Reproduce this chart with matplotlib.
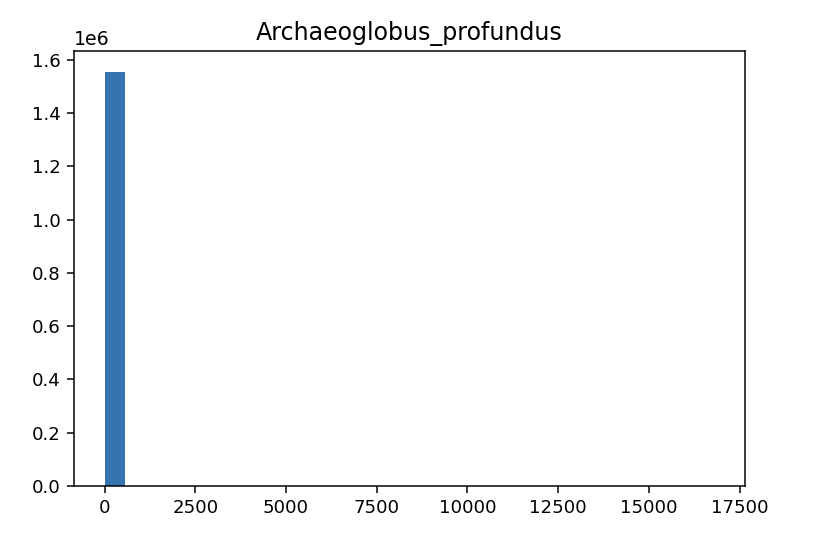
import numpy as np
import matplotlib
matplotlib.use("Agg")
import matplotlib.pyplot as plt

# histogram of lengths, 30 bins from 0 to ~16810
title = "Archaeoglobus_profundus"
data_min = 0
data_max = 16810
n_bins = 30
counts = [1556000, 820, 240, 110, 60, 35, 22, 15, 10, 8,
          6, 5, 4, 3, 3, 2, 2, 2, 1, 1,
          1, 1, 1, 1, 0, 0, 1, 0, 0, 1]
xticks = [0, 2500, 5000, 7500, 10000, 12500, 15000, 17500]

edges = np.linspace(data_min, data_max, n_bins + 1)
centers = (edges[:-1] + edges[1:]) / 2

fig = plt.figure(figsize=(818 / 136, 538 / 136), dpi=136)
ax = fig.add_axes([74 / 818, 1 - 486 / 538, (745 - 74) / 818, (486 - 51) / 538])
ax.hist(centers, bins=edges, weights=counts, color="#3574b0")
ax.set_xticks(xticks)
ax.tick_params(labelsize=9.6)
ax.set_title(title, fontsize=12.6)

fig.savefig("out.png", dpi=136)
